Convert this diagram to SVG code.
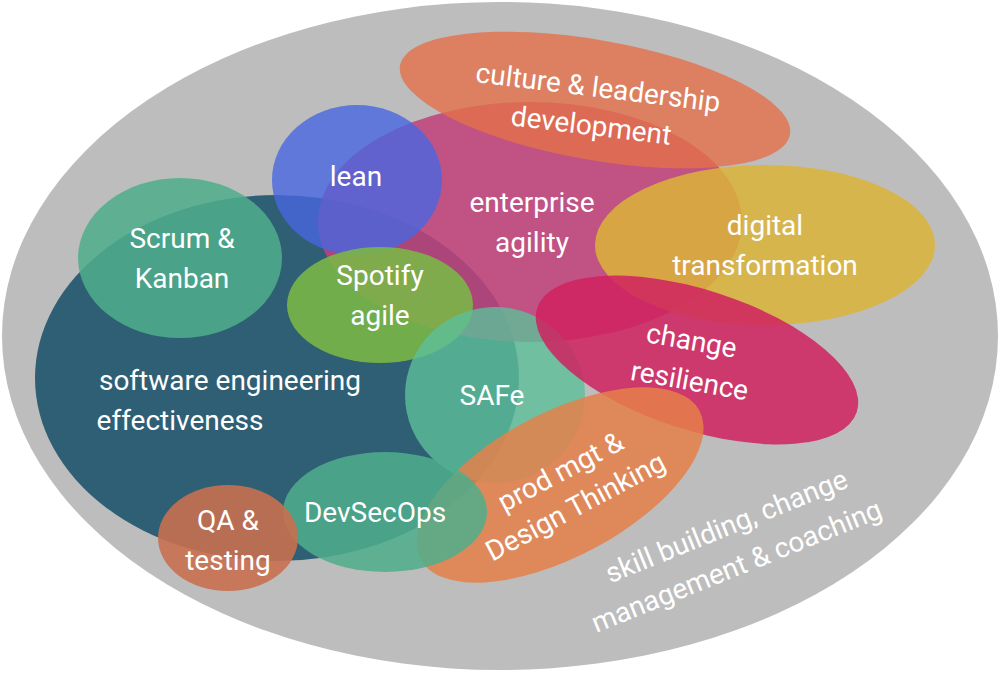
<svg xmlns="http://www.w3.org/2000/svg" width="1000" height="673" viewBox="0 0 1000 673">
<style>
text{font-family:Roboto,"Liberation Sans",sans-serif;font-size:28px;fill:#fff;text-anchor:middle}
</style>
<rect width="1000" height="673" fill="#fff"/>
<g id="outer"><ellipse cx="500" cy="336" rx="498" ry="334" fill="#bdbdbd"/></g>
<g id="software"><ellipse cx="277" cy="378" rx="242" ry="183" fill="#2f5f75"/><text x="230" y="390">software engineering</text><text x="180" y="430">effectiveness</text></g>
<g id="enterprise"><ellipse cx="530" cy="222" rx="212" ry="120" fill="#c2417a" fill-opacity="0.85"/><text x="532" y="212">enterprise</text><text x="532" y="252">agility</text></g>
<g id="culture"><ellipse cx="595" cy="100" rx="198" ry="60" transform="rotate(10 595 100)" fill="#e4704a" fill-opacity="0.8"/><text x="597" y="97" transform="rotate(7 597 97)">culture &amp; leadership</text><text x="590" y="135" transform="rotate(7 590 135)">development</text></g>
<g id="lean"><ellipse cx="357" cy="180" rx="85" ry="75" fill="#4866e0" fill-opacity="0.8"/><text x="356" y="186">lean</text></g>
<g id="digital"><ellipse cx="765" cy="245" rx="170" ry="80" fill="#dcb43a" fill-opacity="0.85"/><text x="765" y="235">digital</text><text x="765" y="275">transformation</text></g>
<g id="scrum"><ellipse cx="180" cy="258" rx="102" ry="80" fill="#4fae8c" fill-opacity="0.85"/><text x="182" y="248">Scrum &amp;</text><text x="182" y="288">Kanban</text></g>
<g id="spotify"><ellipse cx="380" cy="305" rx="93" ry="58" fill="#7ab648" fill-opacity="0.9"/><text x="380" y="285">Spotify</text><text x="380" y="325">agile</text></g>
<g id="safe"><ellipse cx="495" cy="395" rx="90" ry="88" fill="#5cbf9a" fill-opacity="0.8"/><text x="492" y="405">SAFe</text></g>
<g id="change"><ellipse cx="697" cy="360" rx="168" ry="70" transform="rotate(18 697 360)" fill="#d0215f" fill-opacity="0.85"/><text x="690" y="350" transform="rotate(10 690 350)">change</text><text x="688" y="390" transform="rotate(10 688 390)">resilience</text></g>
<g id="prod"><ellipse cx="560" cy="485" rx="158" ry="72" transform="rotate(-28 560 485)" fill="#e5804a" fill-opacity="0.85"/><text x="565" y="480" transform="rotate(-28 565 480)">prod mgt &amp;</text><text x="580" y="515" transform="rotate(-28 580 515)">Design Thinking</text></g>
<g id="devsecops"><ellipse cx="385" cy="512" rx="102" ry="60" fill="#4fae8c" fill-opacity="0.85"/><text x="375" y="522">DevSecOps</text></g>
<g id="qa"><ellipse cx="228" cy="538" rx="70" ry="53" fill="#c8704f" fill-opacity="0.9"/><text x="228" y="530">QA &amp;</text><text x="228" y="570">testing</text></g>
<g id="skill"><text x="730" y="535" transform="rotate(-22 730 535)">skill building, change</text><text x="740" y="575" transform="rotate(-22 740 575)">management &amp; coaching</text></g>
<g id="connectors"/>
</svg>
